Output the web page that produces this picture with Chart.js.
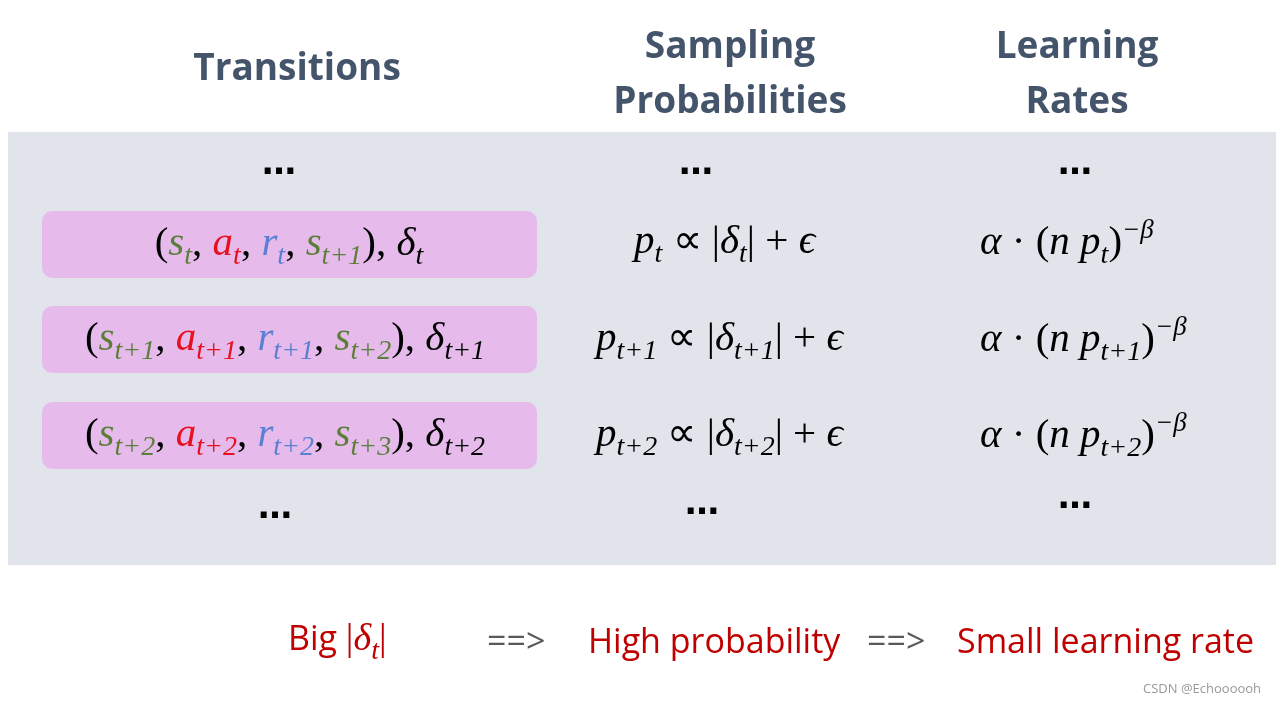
<!DOCTYPE html>
<html><head><meta charset="utf-8">
<script src="https://cdn.jsdelivr.net/npm/chart.js@4/dist/chart.umd.min.js"></script>
<style>
body{margin:0;width:1285px;height:702px;background:#fff;position:relative;overflow:hidden;font-family:"Open Sans",sans-serif}
#c{position:absolute;left:0;top:0}
.t{position:absolute;transform:translate(-50%,-50%);white-space:nowrap}
.l{position:absolute;transform:translateY(-50%);white-space:nowrap}
.h{color:#44546a;font-weight:bold;font-size:37px;text-align:center;line-height:55px}
.m{font-family:"Liberation Serif",serif;font-size:41px;color:#000}
.m i{font-style:italic}
sub{font-size:28px;vertical-align:-9px;font-style:italic}
sup{font-size:27px;vertical-align:16px;font-style:italic}
.g{color:#5b7f3a}.r{color:#e8101e}.b{color:#5b7fd2}
.dots{font-size:34px;font-family:"DejaVu Sans";font-weight:bold;letter-spacing:2px}
.bt{position:absolute;top:640px;transform:translateY(-50%);font-size:34px;color:#c00000;white-space:nowrap}
.ar{color:#595959}
</style></head><body>
<canvas id="c" width="1285" height="702"></canvas>
<script>
const panel=[8,1276,132,565];
const boxesX=[42,537];
const boxesY=[[211,278],[306,373],[402,469]];
new Chart(document.getElementById('c'),{type:'scatter',data:{datasets:[]},
options:{responsive:false,animation:false,layout:{padding:0},plugins:{legend:{display:false},tooltip:{enabled:false}},
scales:{x:{type:'linear',min:0,max:1285,display:false},y:{type:'linear',min:0,max:702,reverse:true,display:false}}},
plugins:[{id:'bg',beforeDatasetsDraw(ch){const{ctx,scales:{x,y}}=ch;ctx.save();
ctx.fillStyle='#e2e4ec';ctx.fillRect(x.getPixelForValue(panel[0]),y.getPixelForValue(panel[2]),x.getPixelForValue(panel[1])-x.getPixelForValue(panel[0]),y.getPixelForValue(panel[3])-y.getPixelForValue(panel[2]));
ctx.fillStyle='#e6bbec';
boxesY.forEach(b=>{const x0=x.getPixelForValue(boxesX[0]),x1=x.getPixelForValue(boxesX[1]),y0=y.getPixelForValue(b[0]),y1=y.getPixelForValue(b[1]);ctx.beginPath();ctx.roundRect(x0,y0,x1-x0,y1-y0,10);ctx.fill();});
ctx.restore();}}]});
</script>
<div class="t h" style="left:297px;top:65px">Transitions</div>
<div class="t h" style="left:730px;top:71px">Sampling<br>Probabilities</div>
<div class="t h" style="left:1077px;top:71px">Learning<br>Rates</div>

<div class="t dots" style="left:280px;top:162px">…</div>
<div class="t dots" style="left:697px;top:162px">…</div>
<div class="t dots" style="left:1076px;top:162px">…</div>
<div class="t dots" style="left:276px;top:506px">…</div>
<div class="t dots" style="left:703px;top:502px">…</div>
<div class="t dots" style="left:1076px;top:496px">…</div>

<div class="t m" style="left:289px;top:244px">(<i class="g">s</i><sub class="g">t</sub>, <i class="r">a</i><sub class="r">t</sub>, <i class="b">r</i><sub class="b">t</sub>, <i class="g">s</i><sub class="g">t+1</sub>), <i>δ</i><sub>t</sub></div>
<div class="t m" style="left:285px;top:339px">(<i class="g">s</i><sub class="g">t+1</sub>, <i class="r">a</i><sub class="r">t+1</sub>, <i class="b">r</i><sub class="b">t+1</sub>, <i class="g">s</i><sub class="g">t+2</sub>), <i>δ</i><sub>t+1</sub></div>
<div class="t m" style="left:285px;top:435px">(<i class="g">s</i><sub class="g">t+2</sub>, <i class="r">a</i><sub class="r">t+2</sub>, <i class="b">r</i><sub class="b">t+2</sub>, <i class="g">s</i><sub class="g">t+3</sub>), <i>δ</i><sub>t+2</sub></div>

<div class="l m" style="left:634px;top:242px"><i>p</i><sub>t</sub> ∝ |<i>δ</i><sub>t</sub>| + <i>ϵ</i></div>
<div class="l m" style="left:596px;top:339px"><i>p</i><sub>t+1</sub> ∝ |<i>δ</i><sub>t+1</sub>| + <i>ϵ</i></div>
<div class="l m" style="left:596px;top:435px"><i>p</i><sub>t+2</sub> ∝ |<i>δ</i><sub>t+2</sub>| + <i>ϵ</i></div>

<div class="l m" style="left:980px;top:242px"><i>α</i> · (<i>n p</i><sub>t</sub>)<sup>−β</sup></div>
<div class="l m" style="left:980px;top:339px"><i>α</i> · (<i>n p</i><sub>t+1</sub>)<sup>−β</sup></div>
<div class="l m" style="left:980px;top:435px"><i>α</i> · (<i>n p</i><sub>t+2</sub>)<sup>−β</sup></div>

<div class="bt" style="left:288px">Big <span style="font-family:'Liberation Serif';font-size:38px">|<i>δ</i><sub>t</sub>|</span></div>
<div class="bt ar" style="left:487px">==&gt;</div>
<div class="bt" style="left:588px">High probability</div>
<div class="bt ar" style="left:867px">==&gt;</div>
<div class="bt" style="left:957px">Small learning rate</div>
<div style="position:absolute;left:1143px;top:679px;font-size:13px;color:#999">CSDN @Echoooooh</div>
</body></html>
